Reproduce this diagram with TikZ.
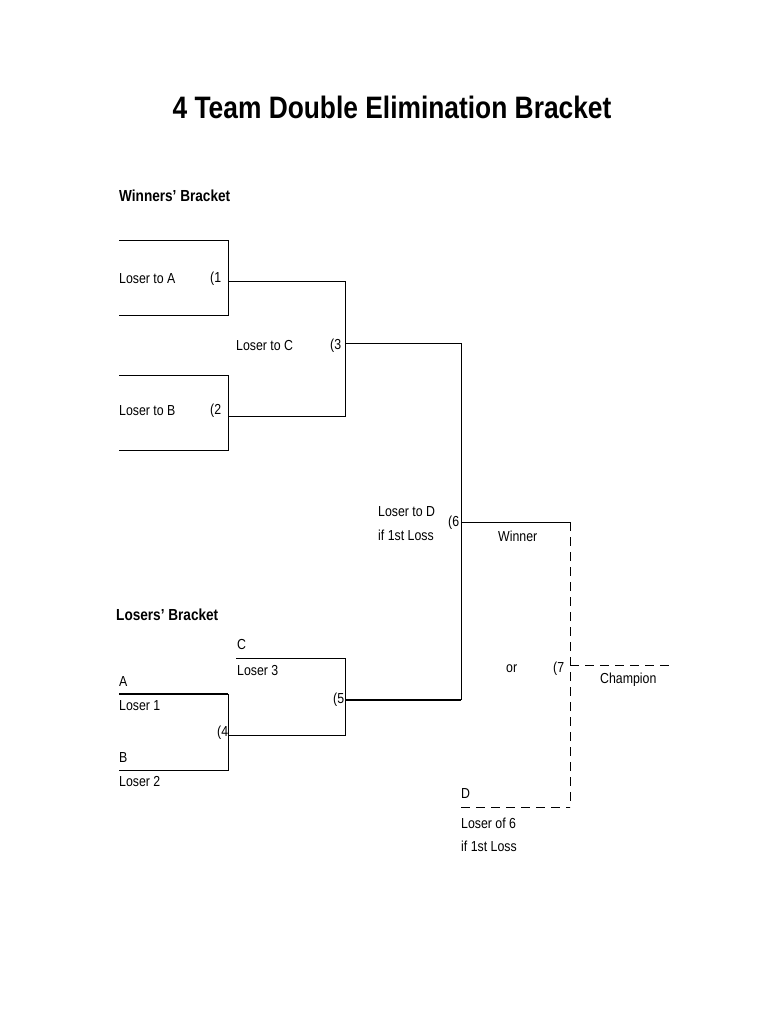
\documentclass[tikz,border=0pt]{standalone}
\usepackage{fontspec}
\setmainfont{Liberation Sans}[FakeStretch=0.85]
\begin{document}
\begin{tikzpicture}[x=1pt,y=-1pt,
  t/.style={anchor=west,inner sep=0pt,font=\fontsize{14.5}{16}\selectfont},
  hd/.style={anchor=west,inner sep=0pt,font=\bfseries\fontsize{16}{18}\selectfont},
  ln/.style={line width=0.9pt},
  thk/.style={line width=1.8pt},
  ds/.style={line width=0.9pt,dash pattern=on 9pt off 6pt}]
\useasboundingbox (0,0) rectangle (768,1024);
\node[inner sep=0pt,font=\bfseries\fontsize{31}{34}\selectfont] (title) at (392,107) {4 Team Double Elimination Bracket};
\node[hd] (wb) at (119,196) {Winners’ Bracket};
\node[hd] (lb) at (116,615) {Losers’ Bracket};
% coordinates
\coordinate (a1) at (119,240); \coordinate (a2) at (228,240); \coordinate (a3) at (228,315); \coordinate (a4) at (119,315);
\coordinate (b1) at (119,375); \coordinate (b2) at (228,375); \coordinate (b3) at (228,450); \coordinate (b4) at (119,450);
\coordinate (m1) at (228,281); \coordinate (m2) at (345,281); \coordinate (m3) at (345,416); \coordinate (m4) at (228,416);
\coordinate (w3) at (345,343); \coordinate (w6a) at (461,343); \coordinate (w6b) at (461,700); \coordinate (l5) at (345,700);
\coordinate (w6) at (461,522); \coordinate (w7) at (570,522); \coordinate (w7b) at (570,807); \coordinate (d0) at (461,807);
\coordinate (c7) at (570,665); \coordinate (ch) at (672,665);
\coordinate (c1) at (236,658); \coordinate (c2) at (345,658); \coordinate (c3) at (345,735); \coordinate (c4) at (228,735);
\coordinate (e1) at (119,694); \coordinate (e2) at (228,694); \coordinate (e3) at (228,770); \coordinate (e4) at (119,770);
\draw[ln] (a1)--(a2)--(a3)--(a4);
\draw[ln] (b1)--(b2)--(b3)--(b4);
\draw[ln] (m1)--(m2)--(m3)--(m4);
\draw[ln] (w3)--(w6a)--(w6b);
\draw[thk] (l5)--(w6b);
\draw[ln] (w6)--(w7);
\draw[ds] (w7)--(w7b);
\draw[ds] (d0)--(w7b);
\draw[ds] (c7)--(ch);
\draw[ln] (c1)--(c2)--(c3)--(c4);
\draw[thk] (e1)--(e2);
\draw[ln] (e2)--(e3)--(e4);
% labels
\node[t] (la) at (119,279) {Loser to A};
\node[t] (n1) at (210,279) {(1};
\node[t] (lbb) at (119,411) {Loser to B};
\node[t] (n2) at (210,411) {(2};
\node[t] (lc) at (236,346) {Loser to C};
\node[t] (n3) at (330,346) {(3};
\node[t] (ld) at (378,512) {Loser to D};
\node[t] (ld2) at (378,535) {if 1st Loss};
\node[t] (n6) at (448,523) {(6};
\node[t] (win) at (498,536) {Winner};
\node[t] (or) at (506,669) {or};
\node[t] (n7) at (553,669) {(7};
\node[t] (champ) at (600,680) {Champion};
\node[t] (D) at (461,794) {D};
\node[t] (lo6) at (461,823) {Loser of 6};
\node[t] (lo6b) at (461,846) {if 1st Loss};
\node[t] (C) at (237,645) {C};
\node[t] (l3) at (237,671) {Loser 3};
\node[t] (n5) at (333,700) {(5};
\node[t] (A) at (119,682) {A};
\node[t] (l1) at (119,706) {Loser 1};
\node[t] (n4) at (217,733) {(4};
\node[t] (B) at (119,758) {B};
\node[t] (l2) at (119,781) {Loser 2};
\end{tikzpicture}
\end{document}
